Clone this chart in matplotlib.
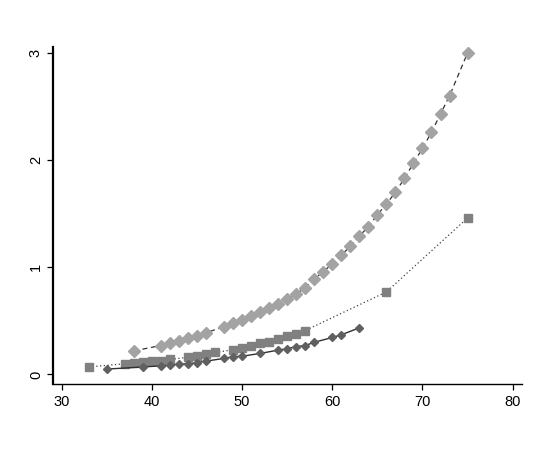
import matplotlib
matplotlib.use("Agg")
import matplotlib.pyplot as plt

# Series A: light gray diamonds, dashed line
x_a = [38, 41, 42, 43, 44, 45, 46, 48, 49, 50, 51, 52, 53, 54, 55, 56, 57,
       58, 59, 60, 61, 62, 63, 64, 65, 66, 67, 68, 69, 70, 71, 72, 73, 75]
y_a = [0.22, 0.27, 0.29, 0.31, 0.34, 0.36, 0.39, 0.445, 0.48, 0.51, 0.55, 0.585,
       0.62, 0.66, 0.70, 0.75, 0.81, 0.89, 0.96, 1.03, 1.11, 1.20, 1.29, 1.38,
       1.49, 1.59, 1.70, 1.83, 1.97, 2.11, 2.26, 2.43, 2.60, 3.00]

# Series B: medium gray squares, dotted line
x_b = [33, 37, 38, 39, 40, 41, 42, 44, 45, 46, 47, 49, 50, 51, 52, 53, 54, 55,
       56, 57, 66, 75]
y_b = [0.07, 0.10, 0.11, 0.115, 0.124, 0.127, 0.14, 0.16, 0.17, 0.19, 0.205,
       0.23, 0.25, 0.27, 0.29, 0.305, 0.33, 0.36, 0.38, 0.41, 0.77, 1.46]

# Series C: dark gray small markers, solid line
x_c = [35, 39, 41, 42, 43, 44, 45, 46, 48, 49, 50, 52, 54, 55, 56, 57, 58, 60,
       61, 63]
y_c = [0.05, 0.07, 0.08, 0.087, 0.096, 0.10, 0.11, 0.124, 0.15, 0.165, 0.17,
       0.196, 0.227, 0.24, 0.26, 0.27, 0.30, 0.345, 0.37, 0.435]

x_ticks = [30, 40, 50, 60, 70, 80]
y_ticks = [0, 1, 2, 3]

plt.rcParams['font.family'] = ['Liberation Sans', 'DejaVu Sans']

fig = plt.figure(figsize=(5.5, 4.65), dpi=100)
ax = fig.add_axes([0.097, 0.174, 0.8515, 0.726])

ax.plot(x_c, y_c, color='#303030', lw=1.0, ls='-', marker='D', ms=4.2,
        mfc='#606060', mec='#606060', zorder=3)
ax.plot(x_b, y_b, color='#404040', lw=0.9, ls=(0, (1, 2)), marker='s', ms=5.2,
        mfc='#808080', mec='#808080', zorder=2)
ax.plot(x_a, y_a, color='#303030', lw=0.9, ls=(0, (4, 3)), marker='D', ms=5.8,
        mfc='#a3a3a3', mec='#a3a3a3', zorder=2)

ax.set_xlim(29.07, 81.0)
ax.set_ylim(-0.09, 3.06)
ax.set_xticks(x_ticks)
ax.set_yticks(y_ticks)
ax.set_xticklabels([str(v) for v in x_ticks])
ax.set_yticklabels([str(v) for v in y_ticks], rotation=90, va='center')

for s in ['top', 'right']:
    ax.spines[s].set_visible(False)
ax.spines['left'].set_linewidth(1.6)
ax.spines['bottom'].set_linewidth(1.0)
ax.tick_params(axis='both', direction='out', length=4.5, width=0.9,
               labelsize=10.5, color='black')
ax.tick_params(axis='x', pad=3.5)
ax.tick_params(axis='y', pad=3)

fig.savefig('out.png', dpi=100, facecolor='white')
